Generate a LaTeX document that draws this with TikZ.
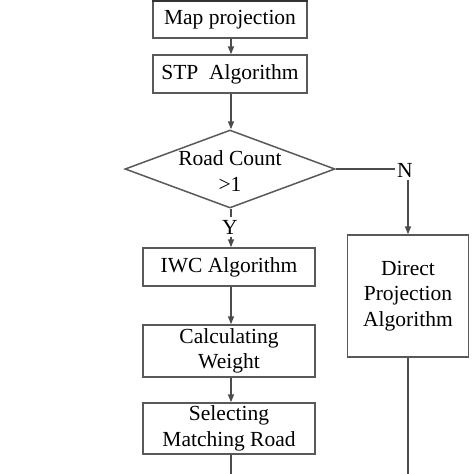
\documentclass[tikz,border=0pt]{standalone}
\usepackage{fontspec}
\setmainfont{Liberation Serif}
\usetikzlibrary{shapes.geometric}
\usetikzlibrary{arrows.meta, positioning}

\begin{document}
\begin{tikzpicture}[x=1pt, y=-1pt,
    every node/.style={font=\fontsize{21.5}{25.5}\selectfont, text=black, inner sep=0pt},
    stepbox/.style={draw=black!65, line width=1.5pt, align=center},
    decbox/.style={diamond, draw=black!65, line width=1.5pt},
    yn/.style={inner sep=2.5pt},
    flow/.style={draw=black!70, line width=1.5pt},
    arr/.style={flow, -{Triangle[length=8pt, width=6pt]}}]

    \path[fill=white, use as bounding box] (0,0) rectangle (474,474);

    % main column
    \node[stepbox, minimum width=154pt, minimum height=37pt] (map) at (230,19.5) {Map projection};
    \node[stepbox, minimum width=154pt, minimum height=38pt] (stp) at (230,74) {STP\ \ Algorithm};
    \node[decbox, minimum width=210pt, minimum height=78pt] (dec) at (230,169) {};
    \node (dectxt) at (230,171) [align=center] {Road Count\\>1};
    \node[yn] (ylab) at (230,227) {Y};
    \node[stepbox, minimum width=172pt, minimum height=38pt] (iwc) at (229,267) {IWC Algorithm};
    \node[stepbox, minimum width=172pt, minimum height=52pt] (calc) at (229,351) {Calculating\\Weight};
    \node[stepbox, minimum width=172pt, minimum height=51pt] (sel) at (229,428.5) {Selecting\\Matching Road};

    % right column
    \node[yn] (nlab) at (405,170) {N};
    \node[stepbox, minimum width=121pt, minimum height=122pt] (dir) at (408,296) {Direct\\Projection\\Algorithm};

    \coordinate (selend) at (230,475);
    \coordinate (dirend) at (408,475);

    \draw[line width=2.6pt, black!80] (map.north west) -- (map.north east);

    \draw[arr] (map.south -| 231,0) -- (stp.north -| 231,0);
    \draw[arr] (stp.south -| 231,0) -- (dec.north -| 231,0);
    \draw[flow] (dec.south -| 231,0) -- (ylab.north -| 231,0);
    \draw[arr] (ylab.south -| 231,0) -- (iwc.north -| 231,0);
    \draw[arr] (iwc.south -| 231,0) -- (calc.north -| 231,0);
    \draw[arr] (calc.south -| 231,0) -- (sel.north -| 231,0);
    \draw[flow] (sel.south -| 231,0) -- (selend -| 231,0);

    \draw[flow] (dec.east) -- (dec.east -| nlab.west);
    \draw[arr] (nlab.south -| dir.north) -- (dir.north);
    \draw[flow] (dir.south) -- (dirend);

\end{tikzpicture}
\end{document}
